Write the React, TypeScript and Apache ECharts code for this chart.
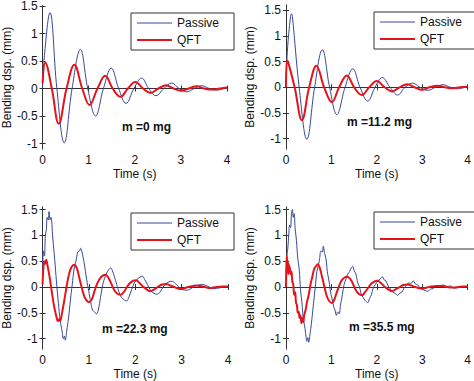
import React, { useEffect, useRef } from "react";
import * as echarts from "echarts";

const FONT = "'Liberation Sans', Arial, Helvetica, sans-serif";

const xTicks = [0, 1, 2, 3, 4];
const yTicks = [-1, -0.5, 0, 0.5, 1, 1.5];
const seriesNames = ["Passive", "QFT"];
const massLabels = ["m =0 mg", "m =11.2 mg", "m =22.3 mg", "m =35.5 mg"];
const yLimits = [
  [-1.1, 1.5],
  [-1.2, 1.6],
  [-1.2, 1.55],
  [-1.2, 1.55],
];

const passive0 = [[0,0.02],[0.04,0.6],[0.16,1.38],[0.31,0],[0.47,-0.99],[0.64,0],[0.82,0.71],[0.98,0],[1.15,-0.5],[1.32,0],[1.49,0.37],[1.65,0],[1.81,-0.27],[1.98,0],[2.15,0.19],[2.3,0],[2.46,-0.13],[2.63,0],[2.8,0.1],[2.96,0],[3.13,-0.06],[3.29,0],[3.45,0.05],[3.62,0],[3.78,-0.03],[3.95,0],[4,0.01]];
const qft0 = [[0,0.1],[0.06,0.47],[0.2,0],[0.35,-0.64],[0.52,0],[0.69,0.43],[0.86,0],[1.02,-0.3],[1.19,0],[1.36,0.23],[1.52,0],[1.69,-0.15],[1.85,0],[2.01,0.12],[2.18,0],[2.34,-0.08],[2.51,0],[2.68,0.06],[2.84,0],[3.0,-0.04],[3.17,0],[3.34,0.04],[3.5,0],[3.67,-0.02],[3.84,0],[4,0.02]];

const passive1 = [[0,0],[0.03,0.7],[0.1,1.38],[0.12,1.43],[0.14,1.38],[0.29,0],[0.46,-1.01],[0.63,0],[0.8,0.73],[0.96,0],[1.12,-0.53],[1.3,0],[1.47,0.36],[1.63,0],[1.8,-0.27],[1.96,0],[2.12,0.19],[2.29,0],[2.46,-0.15],[2.62,0],[2.79,0.08],[2.95,0],[3.12,-0.06],[3.29,0],[3.46,0.05],[3.62,0],[3.79,-0.03],[3.95,0],[4,0.01]];
const qft1 = [[0,0],[0.02,0.52],[0.05,0.48],[0.19,0],[0.35,-0.64],[0.51,0],[0.67,0.42],[0.84,0],[1.01,-0.29],[1.17,0],[1.34,0.23],[1.5,0],[1.67,-0.15],[1.83,0],[2.0,0.12],[2.17,0],[2.34,-0.08],[2.5,0],[2.67,0.06],[2.83,0],[2.99,-0.05],[3.16,0],[3.33,0.03],[3.5,0],[3.66,-0.02],[3.83,0],[4,0.01]];

const passive2 = [[0,0.3],[0.02,0.7],[0.04,0.6],[0.06,1.0],[0.08,1.1],[0.1,1.35],[0.12,1.3],[0.14,1.46],[0.16,1.3],[0.18,1.35],[0.22,0.95],[0.26,0.55],[0.3,0.1],[0.34,-0.3],[0.38,-0.65],[0.42,-0.85],[0.45,-1.0],[0.47,-0.95],[0.49,-1.03],[0.52,-0.85],[0.56,-0.6],[0.6,-0.25],[0.64,0.05],[0.68,0.35],[0.72,0.5],[0.76,0.68],[0.8,0.7],[0.82,0.75],[0.85,0.68],[0.9,0.45],[0.95,0.15],[1.0,-0.1],[1.04,-0.3],[1.08,-0.45],[1.12,-0.48],[1.16,-0.52],[1.2,-0.45],[1.25,-0.2],[1.3,0.05],[1.35,0.2],[1.4,0.3],[1.44,0.35],[1.47,0.37],[1.5,0.33],[1.55,0.2],[1.6,0.05],[1.65,-0.1],[1.7,-0.2],[1.75,-0.24],[1.81,-0.27],[1.86,-0.2],[1.92,-0.05],[1.98,0.08],[2.04,0.15],[2.1,0.19],[2.15,0.21],[2.2,0.15],[2.26,0.05],[2.32,-0.05],[2.38,-0.11],[2.43,-0.13],[2.47,-0.14],[2.53,-0.1],[2.6,0],[2.66,0.06],[2.72,0.1],[2.8,0.11],[2.86,0.07],[2.93,0.01],[3.0,-0.04],[3.07,-0.06],[3.12,-0.06],[3.2,-0.03],[3.28,0.01],[3.36,0.04],[3.45,0.05],[3.52,0.03],[3.6,0],[3.7,-0.03],[3.8,-0.02],[3.9,0],[4,0.01]];
const qft2 = [[0,0.05],[0.02,0.4],[0.04,0.5],[0.06,0.45],[0.08,0.53],[0.1,0.45],[0.15,0.2],[0.2,-0.1],[0.25,-0.38],[0.3,-0.58],[0.33,-0.66],[0.36,-0.62],[0.38,-0.66],[0.42,-0.5],[0.47,-0.25],[0.52,0.02],[0.57,0.25],[0.62,0.38],[0.68,0.43],[0.74,0.36],[0.8,0.15],[0.85,-0.03],[0.9,-0.18],[0.95,-0.26],[1.01,-0.29],[1.07,-0.22],[1.12,-0.08],[1.18,0.07],[1.24,0.17],[1.3,0.22],[1.36,0.24],[1.42,0.18],[1.48,0.07],[1.54,-0.05],[1.6,-0.12],[1.68,-0.15],[1.75,-0.1],[1.82,0],[1.9,0.09],[2.01,0.13],[2.1,0.07],[2.18,0],[2.25,-0.05],[2.33,-0.08],[2.42,-0.04],[2.5,0.01],[2.58,0.05],[2.67,0.06],[2.76,0.03],[2.84,0],[2.92,-0.03],[3.0,-0.04],[3.1,-0.01],[3.18,0.01],[3.3,0.03],[3.4,0.02],[3.5,0],[3.62,-0.02],[3.75,0],[3.88,0.01],[4,0.01]];

const passive3 = [[0,0.1],[0.02,0.6],[0.04,0.75],[0.06,1.0],[0.08,1.2],[0.1,1.15],[0.12,1.4],[0.14,1.5],[0.16,1.35],[0.18,1.42],[0.2,1.15],[0.23,0.9],[0.26,0.55],[0.29,0.35],[0.32,-0.05],[0.35,-0.3],[0.38,-0.6],[0.41,-0.75],[0.44,-0.95],[0.46,-1.05],[0.48,-0.98],[0.5,-1.07],[0.53,-0.9],[0.56,-0.7],[0.59,-0.45],[0.62,-0.2],[0.65,0.05],[0.68,0.3],[0.71,0.4],[0.74,0.55],[0.77,0.7],[0.8,0.68],[0.82,0.79],[0.85,0.65],[0.88,0.55],[0.91,0.3],[0.95,0.1],[0.98,-0.1],[1.02,-0.25],[1.05,-0.38],[1.08,-0.45],[1.11,-0.55],[1.14,-0.48],[1.17,-0.52],[1.2,-0.35],[1.24,-0.15],[1.28,0.05],[1.32,0.15],[1.36,0.25],[1.4,0.3],[1.44,0.38],[1.47,0.4],[1.5,0.32],[1.54,0.25],[1.58,0.08],[1.62,0],[1.66,-0.15],[1.7,-0.2],[1.74,-0.26],[1.8,-0.3],[1.84,-0.22],[1.88,-0.15],[1.92,-0.02],[1.97,0.05],[2.02,0.12],[2.07,0.15],[2.12,0.2],[2.16,0.14],[2.2,0.12],[2.25,0.02],[2.3,-0.04],[2.35,-0.1],[2.4,-0.12],[2.46,-0.16],[2.5,-0.12],[2.55,-0.1],[2.6,-0.02],[2.65,0.03],[2.7,0.08],[2.75,0.07],[2.8,0.12],[2.85,0.06],[2.9,0.04],[2.95,-0.02],[3.0,-0.04],[3.06,-0.07],[3.12,-0.08],[3.18,-0.04],[3.24,-0.03],[3.3,0.02],[3.38,0.02],[3.46,0.04],[3.54,0.01],[3.62,0.02],[3.7,-0.02],[3.8,-0.01],[3.9,0.01],[4,0.01]];
const qft3 = [[0,0],[0.01,0.45],[0.02,0.6],[0.03,0.3],[0.04,0.5],[0.05,0.25],[0.06,0.45],[0.07,0.3],[0.08,0.4],[0.1,0.25],[0.12,0.3],[0.14,0.1],[0.16,0.05],[0.18,-0.15],[0.2,-0.1],[0.22,-0.3],[0.24,-0.35],[0.26,-0.5],[0.28,-0.48],[0.3,-0.6],[0.32,-0.55],[0.34,-0.7],[0.36,-0.6],[0.38,-0.68],[0.4,-0.55],[0.43,-0.45],[0.46,-0.3],[0.5,-0.15],[0.54,0.05],[0.58,0.2],[0.62,0.35],[0.66,0.4],[0.7,0.44],[0.74,0.38],[0.78,0.25],[0.82,0.1],[0.86,-0.05],[0.9,-0.18],[0.95,-0.27],[1.01,-0.31],[1.06,-0.25],[1.1,-0.15],[1.16,0],[1.22,0.12],[1.28,0.18],[1.35,0.2],[1.42,0.15],[1.48,0.05],[1.54,-0.06],[1.6,-0.13],[1.67,-0.16],[1.74,-0.1],[1.82,0],[1.9,0.08],[2.01,0.12],[2.1,0.07],[2.18,0],[2.26,-0.05],[2.34,-0.08],[2.42,-0.04],[2.5,0],[2.58,0.04],[2.67,0.05],[2.76,0.03],[2.84,0],[2.92,-0.02],[3.0,-0.03],[3.1,-0.01],[3.2,0.01],[3.3,0.02],[3.42,0.02],[3.55,0],[3.68,-0.01],[3.8,0],[3.9,0.01],[4,0.01]];

const passiveData = [passive0, passive1, passive2, passive3];
const qftData = [qft0, qft1, qft2, qft3];

const grids = [
  { left: 42, top: 5, width: 185, height: 144 },
  { left: 286, top: 5, width: 184, height: 144 },
  { left: 42, top: 207, width: 186, height: 142 },
  { left: 286, top: 207, width: 184, height: 142 },
];
const legendPos = [
  { left: 131, top: 13 },
  { left: 374, top: 12 },
  { left: 131, top: 213 },
  { left: 374, top: 212 },
];
const notePos = [
  { x: 122, y: 127 },
  { x: 347, y: 122 },
  { x: 102, y: 329 },
  { x: 349, y: 327 },
];

const AXIS = "#333";
const TXT = "#111";
const PASSIVE_COLOR = "#34489a";
const QFT_COLOR = "#e4141b";

export default function App() {
  const ref = useRef<HTMLDivElement>(null);
  useEffect(() => {
    document.body.style.margin = "0";
    if (!ref.current) return;
    const chart = echarts.init(ref.current, undefined, { renderer: "svg" });
    const xAxis: any[] = [];
    const yAxis: any[] = [];
    const series: any[] = [];
    const legend: any[] = [];
    const graphic: any[] = [];
    grids.forEach((g, i) => {
      const base = {
        gridIndex: i,
        type: "value",
        axisLine: { show: true, lineStyle: { color: AXIS, width: 1 } },
        axisTick: { show: true, inside: true, length: 3, lineStyle: { color: AXIS } },
        splitLine: { show: false },
      };
      xAxis.push({
        ...base,
        position: "bottom",
        min: xTicks[0],
        max: xTicks[xTicks.length - 1],
        interval: 1,
        axisLabel: { show: true, color: TXT, fontSize: 12, fontFamily: FONT, margin: 5 },
        name: "Time (s)",
        nameLocation: "middle",
        nameGap: 19,
        nameTextStyle: { color: TXT, fontSize: 12, fontFamily: FONT },
      });
      xAxis.push({
        ...base,
        position: "top",
        min: xTicks[0],
        max: xTicks[xTicks.length - 1],
        interval: 1,
        axisLabel: { show: false },
      });
      yAxis.push({
        ...base,
        position: "left",
        min: yLimits[i][0],
        max: yLimits[i][1],
        axisTick: { ...base.axisTick, customValues: yTicks },
        axisLabel: { show: true, color: TXT, fontSize: 12, fontFamily: FONT, margin: 5, customValues: yTicks },
        name: "Bending dsp. (mm)",
        nameLocation: "middle",
        nameRotate: 90,
        nameGap: 28,
        nameTextStyle: { color: TXT, fontSize: 12, fontFamily: FONT },
      });
      yAxis.push({
        ...base,
        position: "right",
        min: yLimits[i][0],
        max: yLimits[i][1],
        axisTick: { ...base.axisTick, customValues: yTicks },
        axisLabel: { show: false, customValues: yTicks },
      });
      series.push({
        type: "line",
        name: seriesNames[0],
        xAxisIndex: i * 2,
        yAxisIndex: i * 2,
        data: passiveData[i],
        symbol: "none",
        smooth: 0.4,
        lineStyle: { color: PASSIVE_COLOR, width: 1 },
        itemStyle: { color: PASSIVE_COLOR },
        z: 2,
      });
      series.push({
        type: "line",
        name: seriesNames[1],
        xAxisIndex: i * 2,
        yAxisIndex: i * 2,
        data: qftData[i],
        symbol: "none",
        smooth: 0.4,
        lineStyle: { color: QFT_COLOR, width: 2 },
        itemStyle: { color: QFT_COLOR },
        z: 3,
      });
      legend.push({
        data: [
          { name: seriesNames[0], icon: "path://M0,0H35V1H0Z", itemStyle: { color: PASSIVE_COLOR } },
          { name: seriesNames[1], icon: "path://M0,0H35V2H0Z", itemStyle: { color: QFT_COLOR } },
        ],
        orient: "vertical",
        left: legendPos[i].left,
        top: legendPos[i].top,
        itemWidth: 35,
        itemHeight: 12,
        itemGap: 5,
        padding: [4, 15, 4, 6],
        borderColor: AXIS,
        borderWidth: 1,
        borderRadius: 0,
        backgroundColor: "#fff",
        selectedMode: false,
        textStyle: { color: TXT, fontSize: 12, fontFamily: FONT },
      });
      graphic.push({
        type: "text",
        x: notePos[i].x,
        y: notePos[i].y,
        z: 10,
        style: {
          text: massLabels[i],
          fill: TXT,
          font: `bold 12px ${FONT}`,
          verticalAlign: "middle",
          align: "left",
        },
      });
    });
    chart.setOption({
      animation: false,
      backgroundColor: "#fff",
      grid: grids.map((g) => ({ ...g, containLabel: false })),
      xAxis,
      yAxis,
      series,
      legend,
      graphic,
    });
    return () => chart.dispose();
  }, []);
  return <div ref={ref} style={{ width: 474, height: 381 }} />;
}
